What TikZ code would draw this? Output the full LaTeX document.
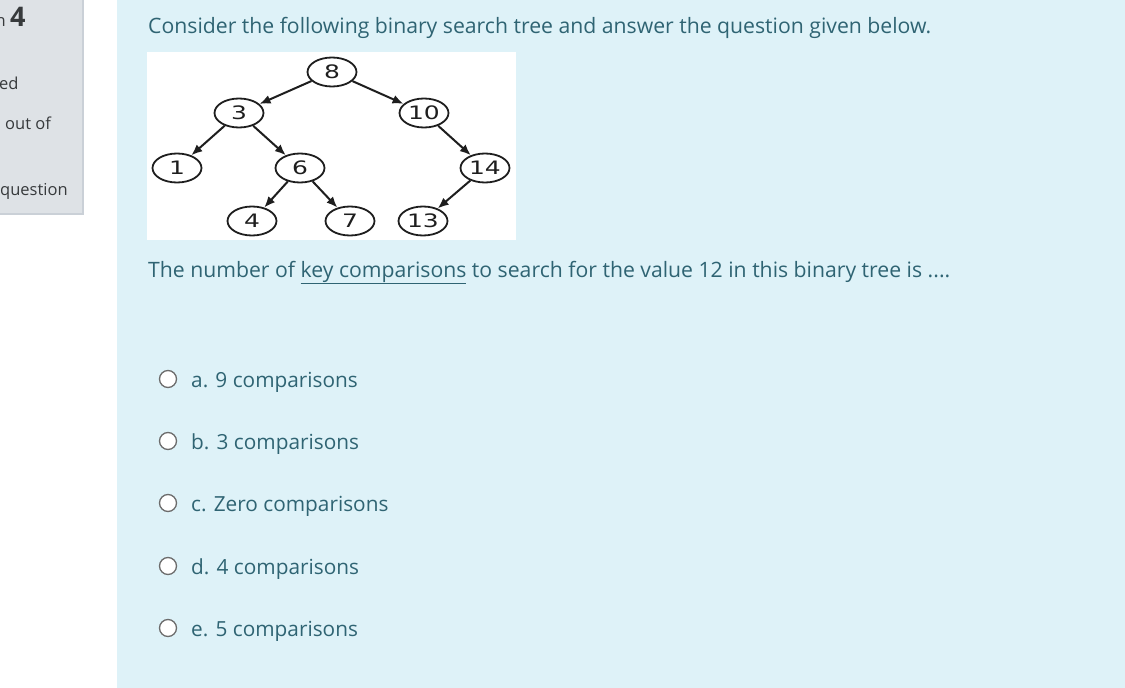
\documentclass[tikz,border=0pt]{standalone}
\usepackage{fontspec}
\usepackage{graphicx}
\setmainfont{Open Sans}
\newfontfamily\treefont{DejaVu Sans}
\usetikzlibrary{arrows.meta,shapes.geometric}
\definecolor{panelblue}{HTML}{DEF2F8}
\definecolor{infogray}{HTML}{DEE2E6}
\definecolor{infoborder}{HTML}{CAD0D7}
\definecolor{qtext}{HTML}{2F6473}
\definecolor{sidetext}{HTML}{373A3C}
\definecolor{treeink}{HTML}{1E1E1E}
\newcommand{\wide}[1]{\scalebox{1.35}[1]{#1}}
\tikzset{
  x=1pt, y=-1pt,
  bstnode/.style={draw=treeink, line width=1.8pt, ellipse, minimum width=49pt, minimum height=29pt, inner sep=0pt, fill=white, font=\treefont\fontsize{18.5}{18.5}\selectfont, text=treeink},
  bstedge/.style={draw=treeink, line width=2pt, -{Latex[length=11pt,width=9pt]}},
  qline/.style={anchor=base west, inner sep=0pt, text=qtext, font=\fontsize{21.2}{24}\selectfont},
  optline/.style={qline, font=\fontsize{20.8}{24}\selectfont},
  sideline/.style={anchor=base west, inner sep=0pt, text=sidetext, font=\fontsize{16.5}{20}\selectfont},
  radio/.style={circle, draw=gray!85!black, line width=1.3pt, fill=white, minimum size=17pt, inner sep=0pt},
}
\begin{document}
\begin{tikzpicture}
\useasboundingbox (0,0) rectangle (1125,688);
\clip (0,0) rectangle (1125,688);
\fill[white] (0,0) rectangle (1125,688);
% side info panel
\fill[infoborder] (-5,-5) rectangle (84,215);
\fill[infogray] (-5,-5) rectangle (82,213);
% blue formulation panel
\fill[panelblue] (117,0) rectangle (1125,688);
% side texts
\node[sideline, anchor=base east] (nfrag) at (6,27) {n};
\node[sideline, font=\fontsize{27}{28}\selectfont\bfseries] (qnum) at (10,27) {4};
\node[sideline] (ed) at (-1,89) {ed};
\node[sideline] (outof) at (5,129) {out of};
\node[sideline] (flag) at (0,195) {question};
% question text
\node[qline] (q1) at (148,33) {Consider the following binary search tree and answer the question given below.};
% image
\fill[white] (147,52) rectangle (516,240);
\node[bstnode] (n8) at (332,72) {\wide{8}};
\node[bstnode] (n3) at (239,113) {\wide{3}};
\node[bstnode] (n10) at (424,113) {\wide{10}};
\node[bstnode] (n1) at (177,168) {\wide{1}};
\node[bstnode] (n6) at (300,168) {\wide{6}};
\node[bstnode] (n14) at (485,168) {\wide{14}};
\node[bstnode] (n4) at (252,221) {\wide{4}};
\node[bstnode] (n7) at (350,221) {\wide{7}};
\node[bstnode] (n13) at (423,221) {\wide{13}};
\draw[bstedge] (n8) -- (n3);
\draw[bstedge] (n8) -- (n10);
\draw[bstedge] (n3) -- (n1);
\draw[bstedge] (n3) -- (n6);
\draw[bstedge] (n10) -- (n14);
\draw[bstedge] (n6) -- (n4);
\draw[bstedge] (n6) -- (n7);
\draw[bstedge] (n14) -- (n13);
% second line
\node[qline] (q2) at (148,277) {The number of \underline{key comparisons} to search for the value 12 in this binary tree is ....};
% options
\node[radio] (ra) at (168,379) {};
\node[optline] (ta) at (191,387) {a. 9 comparisons};
\node[radio] (rb) at (168,441) {};
\node[optline] (tb) at (191,449) {b. 3 comparisons};
\node[radio] (rc) at (168,503) {};
\node[optline] (tc) at (191,511) {c. Zero comparisons};
\node[radio] (rd) at (168,566) {};
\node[optline] (td) at (191,574) {d. 4 comparisons};
\node[radio] (re) at (168,628) {};
\node[optline] (te) at (191,636) {e. 5 comparisons};
\end{tikzpicture}
\end{document}
